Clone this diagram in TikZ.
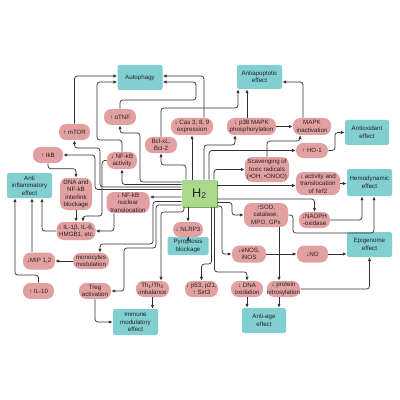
\documentclass[tikz,border=0pt]{standalone}
\usepackage{fontspec}
\setmainfont{Liberation Sans}
\usetikzlibrary{calc,arrows.meta,shadows}
\definecolor{pinkc}{RGB}{227,160,160}
\definecolor{tealc}{RGB}{130,207,210}
\definecolor{greenc}{RGB}{170,217,140}
\definecolor{greend}{RGB}{118,172,92}
\definecolor{linec}{RGB}{50,50,50}
\definecolor{txtc}{RGB}{35,35,35}
\begin{document}
\begin{tikzpicture}[x=0.025cm,y=-0.025cm,
  base/.style={inner sep=0pt, align=center, text=txtc, font=\fontsize{4.4}{5.3}\selectfont},
  pk/.style 2 args={base, fill=pinkc, rounded corners=5.2pt, minimum width=#1*0.025cm, minimum height=#2*0.025cm},
  ef/.style 2 args={base, fill=tealc, rounded corners=1.5pt, minimum width=#1*0.025cm, minimum height=#2*0.025cm},
  ar/.style={draw=linec, line width=0.5pt, rounded corners=2pt, -{Latex[length=2.8pt,width=2.4pt]}}]
\fill[white] (0,0) rectangle (400,400);
\useasboundingbox (0,0) rectangle (400,400);
% effect boxes
\node[ef={45}{25}] (aut) at (140,77.5) {Autophagy};
\node[ef={45}{24}] (apo) at (259.5,77) {Antiapoptotic\\effect};
\node[ef={44}{25}] (aox) at (367,132.5) {Antioxidant\\effect};
\node[ef={45}{27}] (hem) at (369.5,182.5) {Hemodynamic\\effect};
\node[ef={45}{25}] (epi) at (369.5,244.5) {Epigenome\\effect};
\node[ef={44}{25}] (age) at (264,320.5) {Anti-age\\effect};
\node[ef={45}{26}] (imm) at (135.5,322) {Immune\\modulatory\\effect};
\node[ef={41}{18}] (pyr) at (188,246) {Pyroptosis\\blockage};
\node[ef={45}{25}] (ainf) at (29.5,185.5) {Anti\\inflammatory\\effect};
% H2
\node[base, fill=greenc, minimum width=35*0.025cm, minimum height=27*0.025cm,
  font=\fontsize{9}{10}\selectfont,
  drop shadow={shadow xshift=0.8pt, shadow yshift=-0.8pt, fill=greend, opacity=1}] (h2) at (199.5,193.5) {H\textsubscript{2}};
% pink nodes
\node[pk={31}{16}] (mtor) at (74.5,132) {↑ mTOR};
\node[pk={32}{16}] (tnf) at (120,117) {↑ αTNF};
\node[pk={30}{16}] (ikb) at (48,155) {↑ IkB};
\node[pk={30}{17}] (nfa) at (122,160.5) {↓ NF-kB\\activity};
\node[pk={32}{16}] (bcl) at (161,145) {Bcl-xL,\\Bcl-2};
\node[pk={42}{17}] (cas) at (192,126.5) {↓ Cas 3, 8, 9\\expression};
\node[pk={49}{17}] (p38) at (251.5,126.5) {↓ p38 MAPK\\phosphorylation};
\node[pk={38}{17}] (mapk) at (312,126.5) {MAPK\\inactivation};
\node[pk={32}{15}] (ho1) at (312,150.5) {↑ HO-1};
\node[pk={44}{25}] (scav) at (267,169.5) {Scavenging of\\toxic radicals\\(•OH, •ONOO)};
\node[pk={44}{23}] (nrf2) at (318,183.5) {↓ activity and\\translocation\\of Nrf2};
\node[pk={44}{24}] (sod) at (266,215) {↑SOD,\\catalase,\\MPO, GPx};
\node[pk={31}{16}] (nadph) at (314.5,220) {↓NADPH\\-oxidase};
\node[pk={34}{17}] (enos) at (249,254) {↓eNOS,\\iNOS};
\node[pk={31}{17}] (no) at (312.5,254) {↓NO};
\node[pk={33}{16}] (prot) at (283.5,289) {↓ protein\\nitrosylation};
\node[pk={32}{16}] (dnao) at (247,289) {↓ DNA\\oxidation};
\node[pk={33}{16}] (p53) at (201.5,289) {↓ p53, p21,\\↑ Sirt3};
\node[pk={33}{16}] (th) at (152.5,289) {Th\textsubscript{1}/Th\textsubscript{2}\\imbalance};
\node[pk={32}{16}] (treg) at (95,291) {Treg\\activation};
\node[pk={31}{16}] (il10) at (38.5,291) {↑ IL-10};
\node[pk={32}{17}] (mip) at (39,261) {↓MIP 1,2};
\node[pk={36}{16}] (mono) at (91,261) {monocytes\\modulation};
\node[pk={39}{18}] (il1) at (76,231) {↓ IL-1β, IL-6,\\HMGB1, etc};
\node[pk={32}{32}] (dna) at (76,194) {DNA and\\NF-kB\\interlink\\blockage};
\node[pk={43}{21}] (nfn) at (128,202.5) {↓ NF-kB\\nuclear\\translocation};
\node[pk={30}{15}] (nlrp) at (188,229.5) {↓ NLRP3};
% connectors from H2
\draw[ar] ($(h2.west)+(0,-11.5)$) -| (140,133) -| (tnf);
\draw[ar] ($(h2.west)+(0,-9)$) -| (nfa);
\draw[ar] ($(h2.west)+(0,-6.5)$) -| (100,148) -| (mtor);
\draw[ar] ($(h2.west)+(0,-4)$) -| (95,155) -- (ikb);
\draw[ar] ($(h2.west)+(0,3.5)$) -- ($(nfn.east)+(0,-5.5)$);
\draw[ar] ($(h2.west)+(0,8)$) -| (153,244) -| ($(mono.north)+(9,0)$);
\draw[ar] ($(h2.west)+(0,11.5)$) -| (156,248) -| (124,291) -- (treg);
\draw[ar] ($(h2.south)+(-15.5,0)$) |- (161,212) -- ($(th.north)+(8.5,0)$);
\draw[ar] ($(h2.south)+(-11.5,0)$) -- (nlrp);
\draw[ar] (nlrp) -- (pyr);
\draw[ar] ($(h2.south)+(12,0)$) |- (201.5,264) -- (p53);
\draw[ar] ($(h2.south)+(15,0)$) |- (247,272) -- (dnao);
\draw[ar] ($(h2.east)+(0,12.5)$) -| (222,254) -- (enos);
\draw[ar] ($(h2.east)+(0,9)$) -| (232,215) -- (sod);
\draw[ar] ($(h2.east)+(0,5.5)$) -| (nadph);
\draw[ar] ($(h2.east)+(0,-8)$) -- ($(nrf2.west)+(0,2)$);
\draw[ar] ($(h2.north)+(14.5,0)$) |- (scav);
\draw[ar] ($(h2.north)+(9.5,0)$) |- (ho1);
\draw[ar] ($(h2.north)+(4.5,0)$) |- (235,145) -- ($(p38.south)+(-16.5,0)$);
\draw[ar] ($(h2.north)+(-7.5,0)$) -- (cas);
\draw[ar] ($(h2.north)+(-13.5,0)$) |- (161,165) -- (bcl);
% second level
\draw[ar] ($(cas.north)+(12,0)$) |- ($(aut.east)+(0,-1.5)$);
\draw[ar] (tnf) |- (196,100) |- ($(aut.east)+(0,4.5)$);
\draw[ar] (mtor) |- ($(aut.west)+(0,-1.5)$);
\draw[ar] (nfa) |- (97,140) |- ($(aut.west)+(0,4.5)$);
\draw[ar] (bcl) |- (238,108) -- ($(apo.south)+(-21.5,0)$);
\draw[ar] ($(p38.north)+(-4.5,0)$) -- ($(apo.south)+(-12.5,0)$);
\draw[ar] ($(mapk.north)+(-9,0)$) |- ($(apo.east)+(0,5)$);
\draw[ar] (p38) -- (mapk);
\draw[ar] (scav) |- (300,141) -- ($(mapk.south)+(-12,0)$);
\draw[ar] (ho1) -| (335,132.5) -- (aox);
\draw[ar] (nrf2.east) -- (nrf2.east -| hem.west);
\draw[ar] (nadph) -| ($(hem.south)+(-7.5,0)$);
\draw[ar] (sod) -| (293,233) -| ($(hem.south)+(4.5,0)$);
\draw[ar] ($(sod.south)+(13,0)$) -- ($(prot.north)+(-4.5,0)$);
\draw[ar] ($(prot.south)+(-4.5,0)$) -- ($(age.north)+(15,0)$);
\draw[ar] (prot) -| (epi);
\draw[ar] (enos) -- (no);
\draw[ar] (no) -- (no -| epi.west);
\draw[ar] (dnao) -- (dnao |- age.north);
\draw[ar] (th) -- (th |- imm.north);
\draw[ar] (treg) |- (imm);
\draw[ar] (mono) -- (mip);
\draw[ar] ($(mip.north)+(-7,0)$) -- ($(ainf.south)+(2.5,0)$);
\draw[ar] (il10) |- (15,275) -- ($(ainf.south)+(-14.5,0)$);
\draw[ar] (il1) -| ($(ainf.south)+(12.5,0)$);
\draw[ar] (dna) -- (il1);
\draw[ar] (ikb) |- ($(dna.north)+(0,-9)$) -- (dna);
\draw[ar] (nfa) -| (102,216) -| ($(il1.north)+(7,0)$);
\draw[ar] ($(nfn.south)+(-14,0)$) |- (il1);
\end{tikzpicture}
\end{document}
